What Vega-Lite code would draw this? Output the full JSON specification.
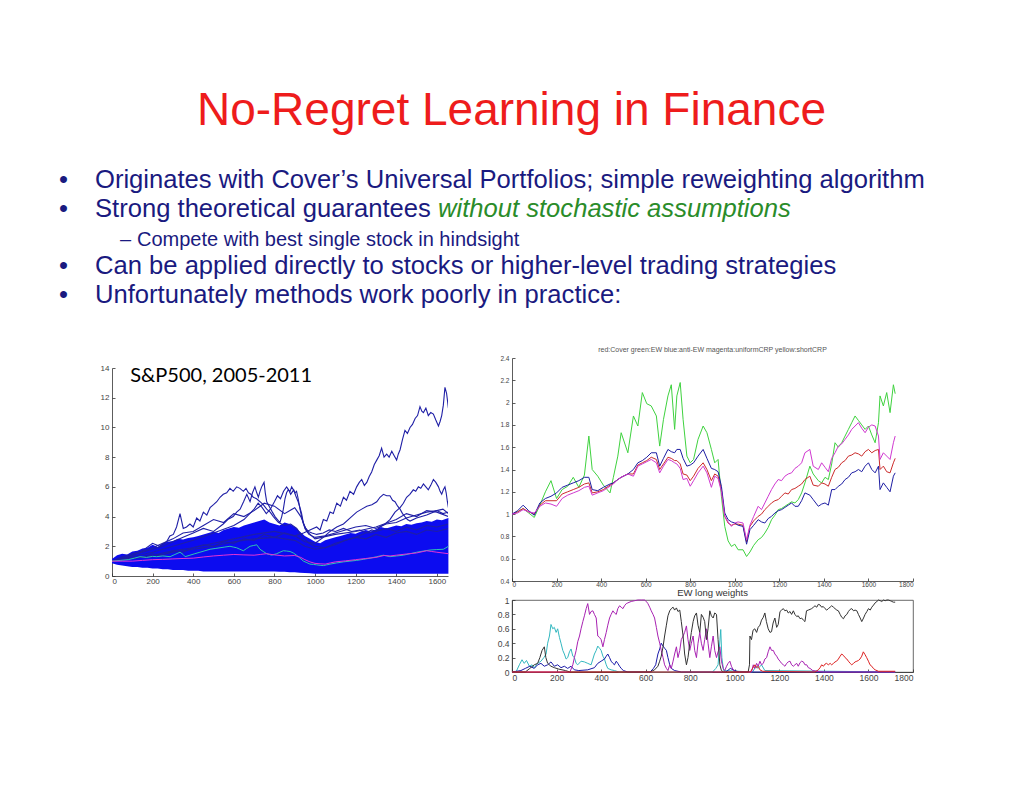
{
"$schema": "https://vega.github.io/schema/vega-lite/v6.json",
"background": "white",
"padding": {"left": 59, "top": 88, "right": 5, "bottom": 5},
"title": {"text": "No-Regret Learning in Finance", "font": "Liberation Sans", "fontSize": 46, "fontWeight": "normal", "color": "#ee1c1c", "anchor": "start", "frame": "bounds", "dx": 138, "baseline": "bottom", "offset": -13},
"config": {
  "view": {"stroke": null},
  "axis": {"grid": false, "title": null, "labelFont": "Liberation Sans", "domainColor": "#333", "tickColor": "#333", "labelColor": "#444", "tickSize": -3, "labelPadding": 6, "domainWidth": 0.8, "tickWidth": 0.8, "labelOverlap": false},
  "title": {"font": "Liberation Sans", "fontWeight": "normal"}
},
"datasets": {
"bullets": [
 {"line":1,"level":1,"marker":"•","text":"Originates with Cover’s Universal Portfolios; simple reweighting algorithm"},
 {"line":2,"level":1,"marker":"•","text":"Strong theoretical guarantees","extra":"without stochastic assumptions"},
 {"line":3,"level":2,"marker":"–","text":"Compete with best single stock in hindsight"},
 {"line":4,"level":1,"marker":"•","text":"Can be applied directly to stocks or higher-level trading strategies"},
 {"line":5,"level":1,"marker":"•","text":"Unfortunately methods work poorly in practice:"}
],
"band": [
{"x":0,"lo":0.85,"hi":1.15},{"x":25,"lo":0.75,"hi":1.4},{"x":50,"lo":0.7,"hi":1.5},{"x":75,"lo":0.65,"hi":1.45},{"x":100,"lo":0.6,"hi":1.65},{"x":125,"lo":0.6,"hi":1.7},{"x":150,"lo":0.55,"hi":1.85},{"x":175,"lo":0.55,"hi":1.9},{"x":200,"lo":0.5,"hi":2.1},{"x":225,"lo":0.5,"hi":1.95},{"x":250,"lo":0.45,"hi":2.2},{"x":275,"lo":0.45,"hi":2.3},{"x":300,"lo":0.4,"hi":2.35},{"x":325,"lo":0.4,"hi":2.5},{"x":350,"lo":0.4,"hi":2.45},{"x":375,"lo":0.35,"hi":2.55},{"x":400,"lo":0.35,"hi":2.6},{"x":425,"lo":0.35,"hi":2.7},{"x":450,"lo":0.3,"hi":2.8},{"x":475,"lo":0.3,"hi":2.9},{"x":500,"lo":0.3,"hi":3.0},{"x":525,"lo":0.3,"hi":2.9},{"x":550,"lo":0.3,"hi":3.1},{"x":575,"lo":0.3,"hi":3.2},{"x":600,"lo":0.3,"hi":3.3},{"x":625,"lo":0.3,"hi":3.25},{"x":650,"lo":0.3,"hi":3.4},{"x":675,"lo":0.3,"hi":3.5},{"x":700,"lo":0.3,"hi":3.6},{"x":725,"lo":0.3,"hi":3.7},{"x":750,"lo":0.3,"hi":3.8},{"x":775,"lo":0.3,"hi":3.6},{"x":800,"lo":0.3,"hi":3.5},{"x":825,"lo":0.28,"hi":3.4},{"x":850,"lo":0.28,"hi":3.6},{"x":875,"lo":0.26,"hi":3.5},{"x":900,"lo":0.25,"hi":3.3},{"x":925,"lo":0.22,"hi":3.0},{"x":950,"lo":0.2,"hi":2.7},{"x":975,"lo":0.18,"hi":2.5},{"x":1000,"lo":0.15,"hi":2.3},{"x":1025,"lo":0.15,"hi":2.2},{"x":1050,"lo":0.15,"hi":2.4},{"x":1075,"lo":0.15,"hi":2.5},{"x":1100,"lo":0.15,"hi":2.6},{"x":1125,"lo":0.15,"hi":2.7},{"x":1150,"lo":0.15,"hi":2.8},{"x":1175,"lo":0.15,"hi":2.9},{"x":1200,"lo":0.15,"hi":2.85},{"x":1225,"lo":0.15,"hi":3.0},{"x":1250,"lo":0.15,"hi":3.1},{"x":1275,"lo":0.15,"hi":3.0},{"x":1300,"lo":0.15,"hi":3.15},{"x":1325,"lo":0.15,"hi":3.3},{"x":1350,"lo":0.15,"hi":3.2},{"x":1375,"lo":0.15,"hi":3.3},{"x":1400,"lo":0.15,"hi":3.4},{"x":1425,"lo":0.15,"hi":3.35},{"x":1450,"lo":0.15,"hi":3.5},{"x":1475,"lo":0.15,"hi":3.45},{"x":1500,"lo":0.15,"hi":3.55},{"x":1525,"lo":0.15,"hi":3.6},{"x":1550,"lo":0.15,"hi":3.7},{"x":1575,"lo":0.15,"hi":3.65},{"x":1600,"lo":0.15,"hi":3.8},{"x":1625,"lo":0.15,"hi":3.75},{"x":1657,"lo":0.15,"hi":3.9}
],
"splines": [
{"id":"top","x":0,"y":1.0},{"id":"top","x":50,"y":1.1},{"id":"top","x":100,"y":1.2},{"id":"top","x":150,"y":1.3},{"id":"top","x":200,"y":1.5},{"id":"top","x":250,"y":1.4},{"id":"top","x":300,"y":1.7},{"id":"top","x":350,"y":1.6},{"id":"top","x":400,"y":1.9},{"id":"top","x":450,"y":2.1},{"id":"top","x":500,"y":2.0},{"id":"top","x":550,"y":2.3},{"id":"top","x":600,"y":2.2},{"id":"top","x":650,"y":2.5},{"id":"top","x":700,"y":2.4},{"id":"top","x":750,"y":2.8},{"id":"top","x":800,"y":2.6},{"id":"top","x":850,"y":2.9},{"id":"top","x":900,"y":2.7},{"id":"top","x":943,"y":2.9},{"id":"top","x":975,"y":3.1},{"id":"top","x":1008,"y":3.3},{"id":"top","x":1025,"y":3.1},{"id":"top","x":1041,"y":3.8},{"id":"top","x":1058,"y":3.7},{"id":"top","x":1074,"y":4.3},{"id":"top","x":1090,"y":4.2},{"id":"top","x":1107,"y":4.9},{"id":"top","x":1125,"y":4.7},{"id":"top","x":1140,"y":5.3},{"id":"top","x":1155,"y":5.1},{"id":"top","x":1172,"y":5.7},{"id":"top","x":1190,"y":5.5},{"id":"top","x":1205,"y":6.0},{"id":"top","x":1218,"y":6.3},{"id":"top","x":1230,"y":6.5},{"id":"top","x":1243,"y":6.1},{"id":"top","x":1255,"y":6.3},{"id":"top","x":1267,"y":6.7},{"id":"top","x":1279,"y":7.0},{"id":"top","x":1292,"y":7.5},{"id":"top","x":1304,"y":7.8},{"id":"top","x":1316,"y":8.1},{"id":"top","x":1328,"y":8.6},{"id":"top","x":1340,"y":8.0},{"id":"top","x":1353,"y":8.2},{"id":"top","x":1365,"y":8.0},{"id":"top","x":1378,"y":8.4},{"id":"top","x":1390,"y":8.1},{"id":"top","x":1402,"y":7.8},{"id":"top","x":1410,"y":8.2},{"id":"top","x":1419,"y":8.5},{"id":"top","x":1431,"y":9.2},{"id":"top","x":1443,"y":9.8},{"id":"top","x":1455,"y":9.6},{"id":"top","x":1468,"y":10.0},{"id":"top","x":1480,"y":10.2},{"id":"top","x":1493,"y":10.6},{"id":"top","x":1505,"y":10.8},{"id":"top","x":1517,"y":11.4},{"id":"top","x":1526,"y":11.1},{"id":"top","x":1534,"y":11.0},{"id":"top","x":1546,"y":11.3},{"id":"top","x":1558,"y":10.8},{"id":"top","x":1570,"y":11.0},{"id":"top","x":1583,"y":10.9},{"id":"top","x":1595,"y":10.5},{"id":"top","x":1608,"y":10.1},{"id":"top","x":1616,"y":10.4},{"id":"top","x":1624,"y":10.8},{"id":"top","x":1632,"y":11.5},{"id":"top","x":1640,"y":12.7},{"id":"top","x":1648,"y":12.3},{"id":"top","x":1657,"y":11.3},
{"id":"a","x":0,"y":1.0},{"id":"a","x":50,"y":1.3},{"id":"a","x":100,"y":1.5},{"id":"a","x":150,"y":1.7},{"id":"a","x":200,"y":2.2},{"id":"a","x":235,"y":2.0},{"id":"a","x":269,"y":2.3},{"id":"a","x":285,"y":2.7},{"id":"a","x":302,"y":2.8},{"id":"a","x":318,"y":3.3},{"id":"a","x":335,"y":4.2},{"id":"a","x":351,"y":3.2},{"id":"a","x":367,"y":3.3},{"id":"a","x":384,"y":3.5},{"id":"a","x":400,"y":3.3},{"id":"a","x":417,"y":3.9},{"id":"a","x":433,"y":3.7},{"id":"a","x":450,"y":4.3},{"id":"a","x":467,"y":4.1},{"id":"a","x":483,"y":4.6},{"id":"a","x":500,"y":4.8},{"id":"a","x":516,"y":5.0},{"id":"a","x":532,"y":5.3},{"id":"a","x":548,"y":5.5},{"id":"a","x":565,"y":5.6},{"id":"a","x":581,"y":5.9},{"id":"a","x":597,"y":5.7},{"id":"a","x":614,"y":6.0},{"id":"a","x":630,"y":5.9},{"id":"a","x":647,"y":5.7},{"id":"a","x":660,"y":5.9},{"id":"a","x":672,"y":5.6},{"id":"a","x":684,"y":5.5},{"id":"a","x":696,"y":5.3},{"id":"a","x":712,"y":5.2},{"id":"a","x":729,"y":5.0},{"id":"a","x":745,"y":4.8},{"id":"a","x":762,"y":4.5},{"id":"a","x":779,"y":4.3},{"id":"a","x":795,"y":4.0},{"id":"a","x":820,"y":3.6},{"id":"a","x":850,"y":3.4},{"id":"a","x":880,"y":3.5},{"id":"a","x":910,"y":3.2},{"id":"a","x":940,"y":2.6},{"id":"a","x":970,"y":2.2},{"id":"a","x":1000,"y":2.0},{"id":"a","x":1050,"y":1.9},{"id":"a","x":1100,"y":2.1},{"id":"a","x":1150,"y":2.4},{"id":"a","x":1200,"y":2.6},{"id":"a","x":1250,"y":2.5},{"id":"a","x":1300,"y":2.8},{"id":"a","x":1350,"y":2.6},{"id":"a","x":1400,"y":2.9},{"id":"a","x":1450,"y":3.0},{"id":"a","x":1500,"y":2.8},{"id":"a","x":1550,"y":3.1},{"id":"a","x":1600,"y":3.0},{"id":"a","x":1657,"y":3.2},
{"id":"b","x":0,"y":1.0},{"id":"b","x":50,"y":1.2},{"id":"b","x":100,"y":1.4},{"id":"b","x":150,"y":1.6},{"id":"b","x":200,"y":1.8},{"id":"b","x":250,"y":2.0},{"id":"b","x":300,"y":2.3},{"id":"b","x":350,"y":2.6},{"id":"b","x":400,"y":2.9},{"id":"b","x":450,"y":3.2},{"id":"b","x":500,"y":3.0},{"id":"b","x":548,"y":3.5},{"id":"b","x":570,"y":3.8},{"id":"b","x":597,"y":4.0},{"id":"b","x":614,"y":4.3},{"id":"b","x":631,"y":4.5},{"id":"b","x":648,"y":5.0},{"id":"b","x":664,"y":5.5},{"id":"b","x":680,"y":5.0},{"id":"b","x":692,"y":5.6},{"id":"b","x":704,"y":6.0},{"id":"b","x":713,"y":5.6},{"id":"b","x":721,"y":5.3},{"id":"b","x":729,"y":5.7},{"id":"b","x":737,"y":6.0},{"id":"b","x":745,"y":6.2},{"id":"b","x":749,"y":6.3},{"id":"b","x":755,"y":5.6},{"id":"b","x":762,"y":5.0},{"id":"b","x":770,"y":4.8},{"id":"b","x":778,"y":4.6},{"id":"b","x":790,"y":4.3},{"id":"b","x":803,"y":4.0},{"id":"b","x":815,"y":3.8},{"id":"b","x":827,"y":3.6},{"id":"b","x":836,"y":4.0},{"id":"b","x":844,"y":4.5},{"id":"b","x":852,"y":5.2},{"id":"b","x":860,"y":5.6},{"id":"b","x":868,"y":5.8},{"id":"b","x":877,"y":5.7},{"id":"b","x":885,"y":6.0},{"id":"b","x":893,"y":5.8},{"id":"b","x":901,"y":5.6},{"id":"b","x":909,"y":5.7},{"id":"b","x":917,"y":5.2},{"id":"b","x":926,"y":4.5},{"id":"b","x":934,"y":4.0},{"id":"b","x":943,"y":3.5},{"id":"b","x":955,"y":3.2},{"id":"b","x":967,"y":3.0},{"id":"b","x":985,"y":2.9},{"id":"b","x":1008,"y":2.8},{"id":"b","x":1040,"y":2.9},{"id":"b","x":1070,"y":3.1},{"id":"b","x":1100,"y":3.0},{"id":"b","x":1140,"y":3.2},{"id":"b","x":1180,"y":3.0},{"id":"b","x":1220,"y":3.1},{"id":"b","x":1260,"y":2.9},{"id":"b","x":1300,"y":3.0},{"id":"b","x":1350,"y":3.2},{"id":"b","x":1400,"y":3.0},{"id":"b","x":1450,"y":3.3},{"id":"b","x":1500,"y":3.1},{"id":"b","x":1550,"y":3.4},{"id":"b","x":1600,"y":3.3},{"id":"b","x":1657,"y":3.5},
{"id":"c","x":0,"y":1.0},{"id":"c","x":100,"y":1.3},{"id":"c","x":200,"y":1.6},{"id":"c","x":300,"y":2.0},{"id":"c","x":400,"y":2.4},{"id":"c","x":500,"y":2.9},{"id":"c","x":600,"y":3.4},{"id":"c","x":650,"y":3.8},{"id":"c","x":700,"y":4.5},{"id":"c","x":720,"y":4.9},{"id":"c","x":740,"y":4.6},{"id":"c","x":760,"y":4.2},{"id":"c","x":780,"y":4.5},{"id":"c","x":800,"y":5.0},{"id":"c","x":815,"y":5.4},{"id":"c","x":830,"y":5.2},{"id":"c","x":845,"y":5.7},{"id":"c","x":860,"y":6.0},{"id":"c","x":870,"y":5.8},{"id":"c","x":880,"y":5.5},{"id":"c","x":895,"y":5.8},{"id":"c","x":905,"y":5.4},{"id":"c","x":917,"y":5.0},{"id":"c","x":926,"y":4.6},{"id":"c","x":934,"y":4.2},{"id":"c","x":942,"y":3.6},{"id":"c","x":950,"y":3.2},{"id":"c","x":970,"y":2.8},{"id":"c","x":1000,"y":2.6},{"id":"c","x":1050,"y":2.7},{"id":"c","x":1100,"y":2.9},{"id":"c","x":1150,"y":3.1},{"id":"c","x":1200,"y":3.3},{"id":"c","x":1250,"y":3.4},{"id":"c","x":1300,"y":3.2},{"id":"c","x":1350,"y":3.5},{"id":"c","x":1400,"y":3.6},{"id":"c","x":1450,"y":3.9},{"id":"c","x":1500,"y":4.1},{"id":"c","x":1550,"y":4.3},{"id":"c","x":1600,"y":4.4},{"id":"c","x":1630,"y":4.2},{"id":"c","x":1657,"y":4.3},
{"id":"d","x":0,"y":1.0},{"id":"d","x":100,"y":1.2},{"id":"d","x":200,"y":1.3},{"id":"d","x":300,"y":1.6},{"id":"d","x":400,"y":1.8},{"id":"d","x":500,"y":2.0},{"id":"d","x":600,"y":2.3},{"id":"d","x":700,"y":2.5},{"id":"d","x":800,"y":2.6},{"id":"d","x":900,"y":2.4},{"id":"d","x":950,"y":2.0},{"id":"d","x":1000,"y":1.8},{"id":"d","x":1050,"y":1.9},{"id":"d","x":1100,"y":2.2},{"id":"d","x":1150,"y":2.4},{"id":"d","x":1200,"y":2.6},{"id":"d","x":1250,"y":2.9},{"id":"d","x":1280,"y":3.1},{"id":"d","x":1300,"y":3.0},{"id":"d","x":1320,"y":3.3},{"id":"d","x":1345,"y":3.5},{"id":"d","x":1369,"y":3.8},{"id":"d","x":1394,"y":4.3},{"id":"d","x":1419,"y":4.6},{"id":"d","x":1435,"y":4.9},{"id":"d","x":1451,"y":5.3},{"id":"d","x":1467,"y":5.5},{"id":"d","x":1484,"y":5.8},{"id":"d","x":1496,"y":5.7},{"id":"d","x":1509,"y":6.0},{"id":"d","x":1521,"y":5.9},{"id":"d","x":1534,"y":6.2},{"id":"d","x":1546,"y":6.0},{"id":"d","x":1558,"y":5.8},{"id":"d","x":1570,"y":6.1},{"id":"d","x":1583,"y":6.5},{"id":"d","x":1595,"y":6.3},{"id":"d","x":1608,"y":6.0},{"id":"d","x":1616,"y":5.7},{"id":"d","x":1624,"y":5.5},{"id":"d","x":1632,"y":5.8},{"id":"d","x":1640,"y":6.0},{"id":"d","x":1646,"y":5.6},{"id":"d","x":1652,"y":5.0},{"id":"d","x":1657,"y":4.6},
{"id":"e","x":0,"y":1.0},{"id":"e","x":100,"y":1.2},{"id":"e","x":200,"y":1.4},{"id":"e","x":300,"y":1.7},{"id":"e","x":400,"y":1.9},{"id":"e","x":500,"y":2.2},{"id":"e","x":600,"y":2.5},{"id":"e","x":700,"y":2.8},{"id":"e","x":800,"y":3.0},{"id":"e","x":900,"y":2.7},{"id":"e","x":950,"y":2.3},{"id":"e","x":1000,"y":2.2},{"id":"e","x":1041,"y":2.6},{"id":"e","x":1074,"y":3.0},{"id":"e","x":1107,"y":3.3},{"id":"e","x":1140,"y":3.5},{"id":"e","x":1172,"y":3.9},{"id":"e","x":1205,"y":4.3},{"id":"e","x":1230,"y":4.5},{"id":"e","x":1255,"y":4.7},{"id":"e","x":1280,"y":4.8},{"id":"e","x":1304,"y":5.0},{"id":"e","x":1320,"y":5.3},{"id":"e","x":1337,"y":5.5},{"id":"e","x":1353,"y":5.4},{"id":"e","x":1369,"y":5.4},{"id":"e","x":1382,"y":5.1},{"id":"e","x":1394,"y":5.0},{"id":"e","x":1407,"y":4.7},{"id":"e","x":1419,"y":4.5},{"id":"e","x":1431,"y":4.2},{"id":"e","x":1443,"y":4.0},{"id":"e","x":1455,"y":3.8},{"id":"e","x":1468,"y":3.7},{"id":"e","x":1500,"y":3.9},{"id":"e","x":1550,"y":4.1},{"id":"e","x":1600,"y":4.4},{"id":"e","x":1630,"y":4.5},{"id":"e","x":1657,"y":4.2},
{"id":"f","x":0,"y":1.0},{"id":"f","x":100,"y":1.4},{"id":"f","x":200,"y":1.9},{"id":"f","x":300,"y":2.5},{"id":"f","x":350,"y":2.9},{"id":"f","x":400,"y":3.0},{"id":"f","x":450,"y":3.4},{"id":"f","x":500,"y":3.8},{"id":"f","x":550,"y":3.6},{"id":"f","x":600,"y":4.2},{"id":"f","x":650,"y":4.0},{"id":"f","x":700,"y":4.4},{"id":"f","x":750,"y":4.9},{"id":"f","x":800,"y":4.7},{"id":"f","x":850,"y":4.2},{"id":"f","x":900,"y":4.6},{"id":"f","x":930,"y":4.0},{"id":"f","x":960,"y":3.0},{"id":"f","x":1000,"y":2.5},{"id":"f","x":1100,"y":2.8},{"id":"f","x":1200,"y":3.0},{"id":"f","x":1300,"y":3.3},{"id":"f","x":1400,"y":3.8},{"id":"f","x":1450,"y":4.2},{"id":"f","x":1500,"y":4.0},{"id":"f","x":1550,"y":4.4},{"id":"f","x":1600,"y":4.3},{"id":"f","x":1657,"y":4.0}
],
"spew": [
{"x":0,"y":1.0},{"x":40,"y":1.05},{"x":80,"y":1.1},{"x":110,"y":1.2},{"x":138,"y":1.3},{"x":170,"y":1.25},{"x":200,"y":1.32},{"x":220,"y":1.3},{"x":250,"y":1.35},{"x":286,"y":1.3},{"x":310,"y":1.45},{"x":335,"y":1.6},{"x":350,"y":1.45},{"x":360,"y":1.3},{"x":384,"y":1.4},{"x":408,"y":1.5},{"x":433,"y":1.6},{"x":458,"y":1.7},{"x":483,"y":1.8},{"x":508,"y":1.85},{"x":532,"y":1.9},{"x":556,"y":1.95},{"x":581,"y":2.0},{"x":597,"y":1.95},{"x":614,"y":1.9},{"x":630,"y":1.8},{"x":647,"y":1.7},{"x":663,"y":1.85},{"x":680,"y":2.0},{"x":696,"y":2.05},{"x":713,"y":2.1},{"x":721,"y":1.95},{"x":729,"y":1.8},{"x":745,"y":1.65},{"x":762,"y":1.5},{"x":775,"y":1.45},{"x":786,"y":1.4},{"x":798,"y":1.45},{"x":811,"y":1.5},{"x":827,"y":1.6},{"x":844,"y":1.7},{"x":860,"y":1.68},{"x":877,"y":1.65},{"x":893,"y":1.55},{"x":909,"y":1.4},{"x":926,"y":1.2},{"x":943,"y":1.0},{"x":960,"y":0.9},{"x":975,"y":0.8},{"x":992,"y":0.78},{"x":1008,"y":0.75},{"x":1025,"y":0.72},{"x":1041,"y":0.7},{"x":1058,"y":0.75},{"x":1074,"y":0.8},{"x":1107,"y":0.88},{"x":1140,"y":0.95},{"x":1172,"y":1.0},{"x":1205,"y":1.05},{"x":1238,"y":1.12},{"x":1271,"y":1.2},{"x":1304,"y":1.3},{"x":1337,"y":1.4},{"x":1353,"y":1.35},{"x":1369,"y":1.3},{"x":1402,"y":1.35},{"x":1435,"y":1.4},{"x":1468,"y":1.5},{"x":1501,"y":1.6},{"x":1534,"y":1.68},{"x":1567,"y":1.75},{"x":1600,"y":1.78},{"x":1632,"y":1.8},{"x":1645,"y":1.9},{"x":1657,"y":2.0}
],
"spucrp": [
{"x":0,"y":1.0},{"x":50,"y":1.0},{"x":100,"y":1.0},{"x":150,"y":1.05},{"x":200,"y":1.1},{"x":250,"y":1.12},{"x":300,"y":1.15},{"x":350,"y":1.18},{"x":400,"y":1.2},{"x":450,"y":1.28},{"x":500,"y":1.35},{"x":550,"y":1.4},{"x":600,"y":1.45},{"x":650,"y":1.42},{"x":700,"y":1.4},{"x":730,"y":1.45},{"x":760,"y":1.5},{"x":800,"y":1.42},{"x":850,"y":1.35},{"x":900,"y":1.38},{"x":930,"y":1.25},{"x":950,"y":1.1},{"x":975,"y":0.95},{"x":1000,"y":0.85},{"x":1025,"y":0.82},{"x":1050,"y":0.8},{"x":1075,"y":0.88},{"x":1100,"y":0.95},{"x":1150,"y":1.02},{"x":1200,"y":1.1},{"x":1250,"y":1.18},{"x":1300,"y":1.25},{"x":1340,"y":1.38},{"x":1370,"y":1.35},{"x":1400,"y":1.4},{"x":1450,"y":1.48},{"x":1500,"y":1.55},{"x":1550,"y":1.7},{"x":1575,"y":1.65},{"x":1600,"y":1.6},{"x":1630,"y":1.55},{"x":1657,"y":1.5}
],
"perf": [
{"x":0,"g":1,"b":1,"r":1,"m":1},{"x":25,"g":1.02,"b":1.03,"r":1.02,"m":1.01},{"x":50,"g":1.05,"b":1.08,"r":1.05,"m":1.04},{"x":75,"g":1.01,"b":1.03,"r":1.02,"m":1.02},{"x":100,"g":0.97,"b":0.99,"r":1.0,"m":1.01},{"x":125,"g":1.08,"b":1.1,"r":1.08,"m":1.07},{"x":150,"g":1.2,"b":1.14,"r":1.12,"m":1.1},{"x":175,"g":1.3,"b":1.16,"r":1.12,"m":1.09},{"x":200,"g":1.14,"b":1.19,"r":1.12,"m":1.07},{"x":225,"g":1.22,"b":1.24,"r":1.18,"m":1.14},{"x":250,"g":1.25,"b":1.26,"r":1.2,"m":1.17},{"x":275,"g":1.33,"b":1.28,"r":1.22,"m":1.19},{"x":300,"g":1.24,"b":1.3,"r":1.24,"m":1.21},{"x":325,"g":1.35,"b":1.33,"r":1.27,"m":1.24},{"x":345,"g":1.7,"b":1.33,"r":1.28,"m":1.25},{"x":360,"g":1.4,"b":1.22,"r":1.19,"m":1.17},{"x":385,"g":1.34,"b":1.21,"r":1.2,"m":1.19},{"x":410,"g":1.26,"b":1.24,"r":1.22,"m":1.21},{"x":440,"g":1.19,"b":1.27,"r":1.26,"m":1.25},{"x":455,"g":1.33,"b":1.28,"r":1.28,"m":1.27},{"x":475,"g":1.52,"b":1.31,"r":1.31,"m":1.31},{"x":490,"g":1.73,"b":1.33,"r":1.33,"m":1.33},{"x":520,"g":1.55,"b":1.36,"r":1.36,"m":1.36},{"x":545,"g":1.88,"b":1.4,"r":1.36,"m":1.34},{"x":565,"g":1.79,"b":1.46,"r":1.44,"m":1.43},{"x":585,"g":2.09,"b":1.48,"r":1.46,"m":1.45},{"x":605,"g":1.99,"b":1.51,"r":1.48,"m":1.47},{"x":625,"g":1.97,"b":1.55,"r":1.51,"m":1.49},{"x":648,"g":1.88,"b":1.55,"r":1.49,"m":1.46},{"x":663,"g":1.61,"b":1.43,"r":1.4,"m":1.37},{"x":680,"g":1.85,"b":1.5,"r":1.45,"m":1.43},{"x":700,"g":2.06,"b":1.58,"r":1.51,"m":1.49},{"x":715,"g":2.16,"b":1.56,"r":1.5,"m":1.48},{"x":730,"g":1.76,"b":1.55,"r":1.48,"m":1.46},{"x":740,"g":2.06,"b":1.58,"r":1.48,"m":1.45},{"x":755,"g":2.18,"b":1.58,"r":1.45,"m":1.41},{"x":768,"g":1.85,"b":1.5,"r":1.36,"m":1.31},{"x":785,"g":1.52,"b":1.43,"r":1.35,"m":1.32},{"x":800,"g":1.46,"b":1.44,"r":1.3,"m":1.25},{"x":815,"g":1.49,"b":1.46,"r":1.34,"m":1.3},{"x":835,"g":1.67,"b":1.52,"r":1.41,"m":1.37},{"x":858,"g":1.79,"b":1.58,"r":1.46,"m":1.43},{"x":875,"g":1.73,"b":1.5,"r":1.4,"m":1.37},{"x":895,"g":1.58,"b":1.41,"r":1.3,"m":1.24},{"x":910,"g":1.46,"b":1.4,"r":1.36,"m":1.34},{"x":925,"g":1.49,"b":1.38,"r":1.34,"m":1.32},{"x":940,"g":1.16,"b":1.25,"r":1.22,"m":1.2},{"x":955,"g":0.89,"b":1.01,"r":0.98,"m":0.98},{"x":970,"g":0.76,"b":0.95,"r":0.92,"m":0.93},{"x":985,"g":0.71,"b":0.93,"r":0.9,"m":0.89},{"x":1000,"g":0.73,"b":0.92,"r":0.91,"m":0.92},{"x":1015,"g":0.68,"b":0.9,"r":0.91,"m":0.93},{"x":1037,"g":0.68,"b":0.89,"r":0.9,"m":0.92},{"x":1053,"g":0.62,"b":0.73,"r":0.75,"m":0.77},{"x":1068,"g":0.66,"b":0.86,"r":0.89,"m":0.9},{"x":1085,"g":0.72,"b":0.9,"r":0.94,"m":0.98},{"x":1105,"g":0.77,"b":0.95,"r":0.98,"m":1.07},{"x":1120,"g":0.79,"b":0.93,"r":1.0,"m":1.04},{"x":1135,"g":0.83,"b":0.92,"r":1.04,"m":1.1},{"x":1150,"g":0.88,"b":0.96,"r":1.07,"m":1.16},{"x":1165,"g":0.95,"b":0.98,"r":1.1,"m":1.22},{"x":1180,"g":0.99,"b":1.01,"r":1.12,"m":1.27},{"x":1195,"g":1.04,"b":1.03,"r":1.13,"m":1.31},{"x":1210,"g":1.05,"b":1.04,"r":1.16,"m":1.3},{"x":1225,"g":1.07,"b":1.06,"r":1.19,"m":1.34},{"x":1240,"g":1.09,"b":1.08,"r":1.18,"m":1.36},{"x":1255,"g":1.11,"b":1.1,"r":1.22,"m":1.37},{"x":1270,"g":1.1,"b":1.07,"r":1.23,"m":1.41},{"x":1285,"g":1.13,"b":1.07,"r":1.25,"m":1.43},{"x":1300,"g":1.19,"b":1.12,"r":1.27,"m":1.46},{"x":1315,"g":1.28,"b":1.19,"r":1.31,"m":1.55},{"x":1337,"g":1.43,"b":1.17,"r":1.34,"m":1.58},{"x":1352,"g":1.36,"b":1.13,"r":1.26,"m":1.43},{"x":1375,"g":1.3,"b":1.07,"r":1.25,"m":1.4},{"x":1390,"g":1.28,"b":1.09,"r":1.28,"m":1.46},{"x":1405,"g":1.33,"b":1.1,"r":1.27,"m":1.42},{"x":1420,"g":1.31,"b":1.08,"r":1.25,"m":1.38},{"x":1435,"g":1.45,"b":1.22,"r":1.33,"m":1.5},{"x":1450,"g":1.64,"b":1.22,"r":1.4,"m":1.55},{"x":1465,"g":1.6,"b":1.25,"r":1.42,"m":1.61},{"x":1480,"g":1.64,"b":1.27,"r":1.46,"m":1.63},{"x":1495,"g":1.7,"b":1.31,"r":1.48,"m":1.67},{"x":1510,"g":1.76,"b":1.33,"r":1.52,"m":1.71},{"x":1525,"g":1.82,"b":1.37,"r":1.53,"m":1.76},{"x":1540,"g":1.88,"b":1.38,"r":1.55,"m":1.79},{"x":1555,"g":1.84,"b":1.4,"r":1.54,"m":1.82},{"x":1570,"g":1.8,"b":1.38,"r":1.52,"m":1.77},{"x":1585,"g":1.76,"b":1.43,"r":1.56,"m":1.73},{"x":1600,"g":1.79,"b":1.46,"r":1.58,"m":1.78},{"x":1615,"g":1.71,"b":1.4,"r":1.55,"m":1.8},{"x":1630,"g":1.64,"b":1.37,"r":1.57,"m":1.79},{"x":1645,"g":1.82,"b":1.43,"r":1.58,"m":1.7},{"x":1652,"g":2.06,"b":1.22,"r":1.4,"m":1.49},{"x":1667,"g":1.97,"b":1.28,"r":1.43,"m":1.55},{"x":1682,"g":2.09,"b":1.24,"r":1.38,"m":1.52},{"x":1697,"g":1.91,"b":1.2,"r":1.37,"m":1.49},{"x":1712,"g":2.16,"b":1.34,"r":1.46,"m":1.64},{"x":1720,"g":2.08,"b":1.37,"r":1.5,"m":1.7}
],
"weights": [
{"s":"c","x":0,"y":0},{"s":"c","x":18,"y":0},{"s":"c","x":33,"y":0.1},{"s":"c","x":45,"y":0.17},{"s":"c","x":55,"y":0.12},{"s":"c","x":65,"y":0.16},{"s":"c","x":78,"y":0.08},{"s":"c","x":90,"y":0.1},{"s":"c","x":100,"y":0.06},{"s":"c","x":115,"y":0.12},{"s":"c","x":130,"y":0.15},{"s":"c","x":143,"y":0.2},{"s":"c","x":153,"y":0.25},{"s":"c","x":160,"y":0.4},{"s":"c","x":168,"y":0.5},{"s":"c","x":175,"y":0.66},{"s":"c","x":183,"y":0.6},{"s":"c","x":190,"y":0.62},{"s":"c","x":198,"y":0.55},{"s":"c","x":205,"y":0.6},{"s":"c","x":213,"y":0.48},{"s":"c","x":220,"y":0.4},{"s":"c","x":228,"y":0.3},{"s":"c","x":235,"y":0.25},{"s":"c","x":243,"y":0.18},{"s":"c","x":250,"y":0.2},{"s":"c","x":258,"y":0.28},{"s":"c","x":265,"y":0.32},{"s":"c","x":273,"y":0.22},{"s":"c","x":280,"y":0.2},{"s":"c","x":288,"y":0.12},{"s":"c","x":295,"y":0.1},{"s":"c","x":310,"y":0.15},{"s":"c","x":325,"y":0.14},{"s":"c","x":340,"y":0.12},{"s":"c","x":355,"y":0.1},{"s":"c","x":363,"y":0.18},{"s":"c","x":370,"y":0.25},{"s":"c","x":378,"y":0.3},{"s":"c","x":385,"y":0.36},{"s":"c","x":393,"y":0.33},{"s":"c","x":400,"y":0.3},{"s":"c","x":408,"y":0.22},{"s":"c","x":415,"y":0.18},{"s":"c","x":423,"y":0.1},{"s":"c","x":430,"y":0.05},{"s":"c","x":445,"y":0.03},{"s":"c","x":460,"y":0.02},{"s":"c","x":480,"y":0},{"s":"c","x":900,"y":0},{"s":"c","x":915,"y":0.05},{"s":"c","x":925,"y":0.1},{"s":"c","x":930,"y":0.3},{"s":"c","x":937,"y":0.59},{"s":"c","x":942,"y":0.2},{"s":"c","x":950,"y":0.02},{"s":"c","x":1080,"y":0},{"s":"c","x":1095,"y":0.08},{"s":"c","x":1105,"y":0.05},{"s":"c","x":1120,"y":0.1},{"s":"c","x":1135,"y":0.02},{"s":"c","x":1720,"y":0},
{"s":"b","x":0,"y":0},{"s":"b","x":40,"y":0.02},{"s":"b","x":60,"y":0.05},{"s":"b","x":80,"y":0.08},{"s":"b","x":100,"y":0.05},{"s":"b","x":115,"y":0.1},{"s":"b","x":130,"y":0.12},{"s":"b","x":145,"y":0.08},{"s":"b","x":160,"y":0.1},{"s":"b","x":175,"y":0.14},{"s":"b","x":190,"y":0.08},{"s":"b","x":205,"y":0.1},{"s":"b","x":220,"y":0.06},{"s":"b","x":235,"y":0.08},{"s":"b","x":250,"y":0.05},{"s":"b","x":265,"y":0.08},{"s":"b","x":280,"y":0.03},{"s":"b","x":300,"y":0.02},{"s":"b","x":340,"y":0.03},{"s":"b","x":370,"y":0.06},{"s":"b","x":385,"y":0.12},{"s":"b","x":400,"y":0.15},{"s":"b","x":415,"y":0.18},{"s":"b","x":423,"y":0.22},{"s":"b","x":430,"y":0.25},{"s":"b","x":438,"y":0.2},{"s":"b","x":445,"y":0.15},{"s":"b","x":453,"y":0.12},{"s":"b","x":460,"y":0.1},{"s":"b","x":468,"y":0.15},{"s":"b","x":475,"y":0.12},{"s":"b","x":483,"y":0.08},{"s":"b","x":490,"y":0.05},{"s":"b","x":500,"y":0.02},{"s":"b","x":520,"y":0},{"s":"b","x":620,"y":0},{"s":"b","x":635,"y":0.05},{"s":"b","x":645,"y":0.1},{"s":"b","x":655,"y":0.25},{"s":"b","x":663,"y":0.32},{"s":"b","x":670,"y":0.4},{"s":"b","x":678,"y":0.36},{"s":"b","x":685,"y":0.33},{"s":"b","x":693,"y":0.3},{"s":"b","x":700,"y":0.2},{"s":"b","x":708,"y":0.1},{"s":"b","x":715,"y":0.05},{"s":"b","x":730,"y":0.02},{"s":"b","x":760,"y":0},{"s":"b","x":960,"y":0},{"s":"b","x":980,"y":0.05},{"s":"b","x":1000,"y":0.02},{"s":"b","x":1020,"y":0},{"s":"b","x":1720,"y":0},
{"s":"m","x":0,"y":0},{"s":"m","x":260,"y":0},{"s":"m","x":273,"y":0.1},{"s":"m","x":280,"y":0.2},{"s":"m","x":288,"y":0.3},{"s":"m","x":295,"y":0.42},{"s":"m","x":303,"y":0.5},{"s":"m","x":310,"y":0.6},{"s":"m","x":318,"y":0.7},{"s":"m","x":325,"y":0.78},{"s":"m","x":333,"y":0.88},{"s":"m","x":340,"y":0.95},{"s":"m","x":348,"y":0.8},{"s":"m","x":355,"y":0.84},{"s":"m","x":363,"y":0.85},{"s":"m","x":370,"y":0.8},{"s":"m","x":378,"y":0.75},{"s":"m","x":385,"y":0.5},{"s":"m","x":393,"y":0.48},{"s":"m","x":400,"y":0.45},{"s":"m","x":408,"y":0.35},{"s":"m","x":415,"y":0.45},{"s":"m","x":423,"y":0.55},{"s":"m","x":430,"y":0.65},{"s":"m","x":438,"y":0.75},{"s":"m","x":445,"y":0.8},{"s":"m","x":453,"y":0.85},{"s":"m","x":460,"y":0.82},{"s":"m","x":468,"y":0.8},{"s":"m","x":475,"y":0.88},{"s":"m","x":483,"y":0.92},{"s":"m","x":490,"y":0.9},{"s":"m","x":498,"y":0.88},{"s":"m","x":505,"y":0.92},{"s":"m","x":513,"y":0.95},{"s":"m","x":520,"y":0.96},{"s":"m","x":535,"y":0.98},{"s":"m","x":550,"y":0.99},{"s":"m","x":565,"y":1.0},{"s":"m","x":580,"y":1.0},{"s":"m","x":595,"y":1.0},{"s":"m","x":603,"y":0.98},{"s":"m","x":610,"y":0.95},{"s":"m","x":618,"y":0.9},{"s":"m","x":625,"y":0.85},{"s":"m","x":633,"y":0.8},{"s":"m","x":640,"y":0.75},{"s":"m","x":648,"y":0.62},{"s":"m","x":655,"y":0.5},{"s":"m","x":663,"y":0.4},{"s":"m","x":670,"y":0.3},{"s":"m","x":678,"y":0.2},{"s":"m","x":685,"y":0.1},{"s":"m","x":693,"y":0.05},{"s":"m","x":700,"y":0.02},{"s":"m","x":708,"y":0.1},{"s":"m","x":715,"y":0.05},{"s":"m","x":723,"y":0.15},{"s":"m","x":730,"y":0.25},{"s":"m","x":738,"y":0.35},{"s":"m","x":745,"y":0.2},{"s":"m","x":753,"y":0.3},{"s":"m","x":760,"y":0.45},{"s":"m","x":768,"y":0.5},{"s":"m","x":775,"y":0.55},{"s":"m","x":783,"y":0.64},{"s":"m","x":790,"y":0.45},{"s":"m","x":798,"y":0.3},{"s":"m","x":805,"y":0.4},{"s":"m","x":813,"y":0.5},{"s":"m","x":820,"y":0.3},{"s":"m","x":828,"y":0.2},{"s":"m","x":835,"y":0.4},{"s":"m","x":843,"y":0.55},{"s":"m","x":850,"y":0.4},{"s":"m","x":858,"y":0.3},{"s":"m","x":865,"y":0.45},{"s":"m","x":873,"y":0.6},{"s":"m","x":880,"y":0.4},{"s":"m","x":888,"y":0.2},{"s":"m","x":895,"y":0.35},{"s":"m","x":903,"y":0.5},{"s":"m","x":910,"y":0.3},{"s":"m","x":918,"y":0.2},{"s":"m","x":925,"y":0.28},{"s":"m","x":933,"y":0.35},{"s":"m","x":940,"y":0.15},{"s":"m","x":948,"y":0.05},{"s":"m","x":955,"y":0.02},{"s":"m","x":963,"y":0.08},{"s":"m","x":970,"y":0.12},{"s":"m","x":978,"y":0.15},{"s":"m","x":985,"y":0.08},{"s":"m","x":993,"y":0.03},{"s":"m","x":1000,"y":0},{"s":"m","x":1075,"y":0},{"s":"m","x":1083,"y":0.1},{"s":"m","x":1090,"y":0.05},{"s":"m","x":1098,"y":0.12},{"s":"m","x":1105,"y":0.08},{"s":"m","x":1113,"y":0.15},{"s":"m","x":1120,"y":0.1},{"s":"m","x":1128,"y":0.12},{"s":"m","x":1135,"y":0.18},{"s":"m","x":1143,"y":0.2},{"s":"m","x":1150,"y":0.28},{"s":"m","x":1158,"y":0.35},{"s":"m","x":1165,"y":0.3},{"s":"m","x":1173,"y":0.3},{"s":"m","x":1180,"y":0.25},{"s":"m","x":1188,"y":0.22},{"s":"m","x":1195,"y":0.18},{"s":"m","x":1203,"y":0.15},{"s":"m","x":1210,"y":0.12},{"s":"m","x":1218,"y":0.1},{"s":"m","x":1225,"y":0.08},{"s":"m","x":1233,"y":0.12},{"s":"m","x":1240,"y":0.14},{"s":"m","x":1248,"y":0.15},{"s":"m","x":1255,"y":0.1},{"s":"m","x":1263,"y":0.08},{"s":"m","x":1270,"y":0.1},{"s":"m","x":1278,"y":0.12},{"s":"m","x":1285,"y":0.08},{"s":"m","x":1293,"y":0.13},{"s":"m","x":1300,"y":0.15},{"s":"m","x":1308,"y":0.14},{"s":"m","x":1315,"y":0.1},{"s":"m","x":1323,"y":0.1},{"s":"m","x":1330,"y":0.06},{"s":"m","x":1338,"y":0.05},{"s":"m","x":1350,"y":0.02},{"s":"m","x":1368,"y":0.01},{"s":"m","x":1400,"y":0},{"s":"m","x":1720,"y":0},
{"s":"k","x":0,"y":0},{"s":"k","x":60,"y":0},{"s":"k","x":80,"y":0.05},{"s":"k","x":100,"y":0.1},{"s":"k","x":115,"y":0.12},{"s":"k","x":125,"y":0.2},{"s":"k","x":135,"y":0.3},{"s":"k","x":145,"y":0.35},{"s":"k","x":152,"y":0.2},{"s":"k","x":160,"y":0.12},{"s":"k","x":175,"y":0.08},{"s":"k","x":190,"y":0.06},{"s":"k","x":210,"y":0.04},{"s":"k","x":240,"y":0.02},{"s":"k","x":260,"y":0},{"s":"k","x":620,"y":0},{"s":"k","x":640,"y":0.03},{"s":"k","x":655,"y":0.08},{"s":"k","x":663,"y":0.15},{"s":"k","x":670,"y":0.22},{"s":"k","x":678,"y":0.35},{"s":"k","x":685,"y":0.5},{"s":"k","x":693,"y":0.65},{"s":"k","x":700,"y":0.78},{"s":"k","x":708,"y":0.85},{"s":"k","x":715,"y":0.88},{"s":"k","x":723,"y":0.9},{"s":"k","x":730,"y":0.86},{"s":"k","x":738,"y":0.89},{"s":"k","x":745,"y":0.84},{"s":"k","x":753,"y":0.86},{"s":"k","x":760,"y":0.7},{"s":"k","x":768,"y":0.5},{"s":"k","x":775,"y":0.25},{"s":"k","x":783,"y":0.1},{"s":"k","x":790,"y":0.2},{"s":"k","x":798,"y":0.4},{"s":"k","x":805,"y":0.55},{"s":"k","x":813,"y":0.7},{"s":"k","x":820,"y":0.78},{"s":"k","x":828,"y":0.82},{"s":"k","x":835,"y":0.65},{"s":"k","x":843,"y":0.55},{"s":"k","x":850,"y":0.8},{"s":"k","x":858,"y":0.76},{"s":"k","x":865,"y":0.7},{"s":"k","x":873,"y":0.45},{"s":"k","x":880,"y":0.6},{"s":"k","x":888,"y":0.85},{"s":"k","x":895,"y":0.78},{"s":"k","x":903,"y":0.75},{"s":"k","x":910,"y":0.82},{"s":"k","x":918,"y":0.8},{"s":"k","x":925,"y":0.45},{"s":"k","x":933,"y":0.1},{"s":"k","x":940,"y":0.02},{"s":"k","x":950,"y":0},{"s":"k","x":1060,"y":0},{"s":"k","x":1066,"y":0.1},{"s":"k","x":1068,"y":0.5},{"s":"k","x":1075,"y":0.45},{"s":"k","x":1082,"y":0.58},{"s":"k","x":1090,"y":0.6},{"s":"k","x":1098,"y":0.55},{"s":"k","x":1105,"y":0.62},{"s":"k","x":1113,"y":0.65},{"s":"k","x":1120,"y":0.72},{"s":"k","x":1128,"y":0.76},{"s":"k","x":1135,"y":0.82},{"s":"k","x":1142,"y":0.7},{"s":"k","x":1150,"y":0.6},{"s":"k","x":1158,"y":0.55},{"s":"k","x":1165,"y":0.56},{"s":"k","x":1172,"y":0.68},{"s":"k","x":1180,"y":0.75},{"s":"k","x":1188,"y":0.62},{"s":"k","x":1195,"y":0.66},{"s":"k","x":1203,"y":0.84},{"s":"k","x":1210,"y":0.86},{"s":"k","x":1218,"y":0.88},{"s":"k","x":1225,"y":0.85},{"s":"k","x":1233,"y":0.86},{"s":"k","x":1240,"y":0.82},{"s":"k","x":1248,"y":0.84},{"s":"k","x":1255,"y":0.8},{"s":"k","x":1263,"y":0.85},{"s":"k","x":1270,"y":0.8},{"s":"k","x":1278,"y":0.77},{"s":"k","x":1285,"y":0.78},{"s":"k","x":1293,"y":0.74},{"s":"k","x":1300,"y":0.75},{"s":"k","x":1308,"y":0.72},{"s":"k","x":1315,"y":0.7},{"s":"k","x":1322,"y":0.85},{"s":"k","x":1330,"y":0.86},{"s":"k","x":1338,"y":0.87},{"s":"k","x":1345,"y":0.88},{"s":"k","x":1353,"y":0.9},{"s":"k","x":1360,"y":0.92},{"s":"k","x":1368,"y":0.9},{"s":"k","x":1375,"y":0.94},{"s":"k","x":1383,"y":0.93},{"s":"k","x":1390,"y":0.9},{"s":"k","x":1397,"y":0.91},{"s":"k","x":1405,"y":0.88},{"s":"k","x":1413,"y":0.86},{"s":"k","x":1420,"y":0.88},{"s":"k","x":1428,"y":0.9},{"s":"k","x":1435,"y":0.92},{"s":"k","x":1443,"y":0.9},{"s":"k","x":1450,"y":0.88},{"s":"k","x":1458,"y":0.86},{"s":"k","x":1465,"y":0.85},{"s":"k","x":1473,"y":0.8},{"s":"k","x":1480,"y":0.76},{"s":"k","x":1488,"y":0.74},{"s":"k","x":1495,"y":0.78},{"s":"k","x":1503,"y":0.8},{"s":"k","x":1510,"y":0.84},{"s":"k","x":1518,"y":0.87},{"s":"k","x":1525,"y":0.88},{"s":"k","x":1533,"y":0.85},{"s":"k","x":1540,"y":0.86},{"s":"k","x":1548,"y":0.85},{"s":"k","x":1555,"y":0.8},{"s":"k","x":1563,"y":0.75},{"s":"k","x":1570,"y":0.7},{"s":"k","x":1578,"y":0.75},{"s":"k","x":1585,"y":0.8},{"s":"k","x":1593,"y":0.84},{"s":"k","x":1600,"y":0.88},{"s":"k","x":1608,"y":0.86},{"s":"k","x":1615,"y":0.9},{"s":"k","x":1623,"y":0.93},{"s":"k","x":1630,"y":0.96},{"s":"k","x":1638,"y":0.98},{"s":"k","x":1645,"y":1.0},{"s":"k","x":1653,"y":0.99},{"s":"k","x":1660,"y":0.98},{"s":"k","x":1668,"y":1.0},{"s":"k","x":1675,"y":0.99},{"s":"k","x":1683,"y":1.0},{"s":"k","x":1690,"y":1.0},{"s":"k","x":1698,"y":0.99},{"s":"k","x":1705,"y":0.98},{"s":"k","x":1712,"y":0.97},{"s":"k","x":1720,"y":0.97},
{"s":"r","x":0,"y":0},{"s":"r","x":1070,"y":0},{"s":"r","x":1080,"y":0.05},{"s":"r","x":1090,"y":0.1},{"s":"r","x":1098,"y":0.06},{"s":"r","x":1105,"y":0.08},{"s":"r","x":1113,"y":0.03},{"s":"r","x":1125,"y":0.01},{"s":"r","x":1360,"y":0},{"s":"r","x":1375,"y":0.03},{"s":"r","x":1383,"y":0.06},{"s":"r","x":1390,"y":0.1},{"s":"r","x":1398,"y":0.08},{"s":"r","x":1405,"y":0.11},{"s":"r","x":1412,"y":0.12},{"s":"r","x":1420,"y":0.1},{"s":"r","x":1428,"y":0.12},{"s":"r","x":1435,"y":0.1},{"s":"r","x":1443,"y":0.12},{"s":"r","x":1450,"y":0.14},{"s":"r","x":1457,"y":0.15},{"s":"r","x":1465,"y":0.18},{"s":"r","x":1473,"y":0.22},{"s":"r","x":1480,"y":0.25},{"s":"r","x":1488,"y":0.23},{"s":"r","x":1495,"y":0.2},{"s":"r","x":1503,"y":0.18},{"s":"r","x":1510,"y":0.15},{"s":"r","x":1518,"y":0.12},{"s":"r","x":1525,"y":0.1},{"s":"r","x":1533,"y":0.12},{"s":"r","x":1540,"y":0.14},{"s":"r","x":1548,"y":0.15},{"s":"r","x":1555,"y":0.16},{"s":"r","x":1562,"y":0.18},{"s":"r","x":1570,"y":0.22},{"s":"r","x":1577,"y":0.28},{"s":"r","x":1585,"y":0.24},{"s":"r","x":1592,"y":0.2},{"s":"r","x":1600,"y":0.15},{"s":"r","x":1607,"y":0.1},{"s":"r","x":1615,"y":0.08},{"s":"r","x":1622,"y":0.05},{"s":"r","x":1630,"y":0.03},{"s":"r","x":1645,"y":0.01},{"s":"r","x":1720,"y":0.01}
]
},
"bounds": "flush",
"spacing": 55,
"resolve": {"scale": {"color": "independent"}},
"vconcat": [
 {
  "width": 801, "height": 115,
  "data": {"name": "bullets"},
  "resolve": {"scale": {"x": "independent"}},
  "layer": [
   {"mark": {"type": "text", "align": "left", "baseline": "alphabetic", "font": "Liberation Sans", "color": "#1a1a80"},
    "encoding": {
     "x": {"field": "level", "type": "quantitative", "scale": {"domain": [1, 2], "range": [-53, 8]}, "axis": null},
     "y": {"field": "line", "type": "ordinal", "scale": {"type": "point", "padding": 0}, "axis": null},
     "text": {"field": "marker"},
     "size": {"condition": {"test": "datum.level === 1", "value": 25.6}, "value": 20}
    }},
   {"mark": {"type": "text", "align": "left", "baseline": "alphabetic", "font": "Liberation Sans", "color": "#1a1a80"},
    "encoding": {
     "x": {"field": "level", "type": "quantitative", "scale": {"domain": [1, 2], "range": [-17, 25]}, "axis": null},
     "y": {"field": "line", "type": "ordinal", "scale": {"type": "point", "padding": 0}, "axis": null},
     "text": {"field": "text"},
     "size": {"condition": {"test": "datum.level === 1", "value": 25.6}, "value": 20}
    }},
   {"transform": [{"filter": "isValid(datum.extra)"}],
    "mark": {"type": "text", "align": "left", "baseline": "alphabetic", "font": "Liberation Sans", "fontStyle": "italic", "fontSize": 25.6, "color": "#2a8c2a", "dx": 343},
    "encoding": {
     "x": {"field": "level", "type": "quantitative", "scale": {"domain": [1, 2], "range": [-17, 25]}, "axis": null},
     "y": {"field": "line", "type": "ordinal", "scale": {"type": "point", "padding": 0}, "axis": null},
     "text": {"field": "extra"}
    }}
  ]
 },
 {
  "bounds": "flush",
  "spacing": 64,
  "resolve": {"scale": {"color": "independent"}},
  "hconcat": [
   {
    "width": 336, "height": 218,
    "layer": [
     {"data": {"name": "band"},
      "mark": {"type": "area", "color": "#0c0cf0", "opacity": 1},
      "encoding": {
       "x": {"field": "x", "type": "quantitative", "scale": {"domain": [0, 1655], "nice": false}, "axis": {"values": [0,200,400,600,800,1000,1200,1400,1600], "format": "d", "labelFontSize": 8, "labelPadding": 4, "labelOverlap": false}},
       "y": {"field": "lo", "type": "quantitative", "scale": {"domain": [0, 14], "range": [218, 10], "nice": false}, "axis": {"values": [0,2,4,6,8,10,12,14], "tickCount": 8, "labelFontSize": 8, "labelOverlap": false}},
       "y2": {"field": "hi"}
      }},
     {"data": {"name": "splines"},
      "mark": {"type": "line", "color": "#1f1fa6", "strokeWidth": 1.1, "clip": true},
      "encoding": {
       "x": {"field": "x", "type": "quantitative"},
       "y": {"field": "y", "type": "quantitative", "axis": {"values": [0,2,4,6,8,10,12,14], "tickCount": 8, "labelFontSize": 8, "labelOverlap": false}},
       "detail": {"field": "id"}
      }},
     {"data": {"name": "spew"},
      "mark": {"type": "line", "color": "#2cc4b4", "strokeWidth": 1},
      "encoding": {"x": {"field": "x", "type": "quantitative"}, "y": {"field": "y", "type": "quantitative", "axis": {"values": [0,2,4,6,8,10,12,14], "tickCount": 8, "labelFontSize": 8, "labelOverlap": false}}}},
     {"data": {"name": "spucrp"},
      "mark": {"type": "line", "color": "#e432d6", "strokeWidth": 1},
      "encoding": {"x": {"field": "x", "type": "quantitative"}, "y": {"field": "y", "type": "quantitative", "axis": {"values": [0,2,4,6,8,10,12,14], "tickCount": 8, "labelFontSize": 8, "labelOverlap": false}}}},
     {"data": {"values": [{"label": "S&P500, 2005-2011"}]},
      "mark": {"type": "text", "align": "left", "baseline": "alphabetic", "font": "Lato", "fontSize": 20, "color": "black"},
      "encoding": {"x": {"datum": 90}, "y": {"datum": 13.05, "axis": {"values": [0,2,4,6,8,10,12,14], "tickCount": 8, "labelFontSize": 8, "labelOverlap": false}}, "text": {"field": "label"}}}
    ]
   },
   {
    "bounds": "flush",
    "spacing": 19,
    "resolve": {"scale": {"color": "independent"}},
    "vconcat": [
     {
      "width": 401, "height": 223,
      "title": {"text": "red:Cover green:EW blue:anti-EW magenta:uniformCRP yellow:shortCRP", "fontSize": 7, "color": "#555", "offset": 2, "anchor": "middle"},
      "data": {"name": "perf"},
      "transform": [{"fold": ["g", "r", "b", "m"], "as": ["s", "v"]}],
      "mark": {"type": "line", "strokeWidth": 1},
      "encoding": {
       "x": {"field": "x", "type": "quantitative", "scale": {"domain": [0, 1800], "nice": false}, "axis": {"values": [0,200,400,600,800,1000,1200,1400,1600,1800], "format": "d", "labelFontSize": 6.5, "labelPadding": 3}},
       "y": {"field": "v", "type": "quantitative", "scale": {"domain": [0.4, 2.4], "nice": false, "zero": false}, "axis": {"values": [0.4,0.6,0.8,1,1.2,1.4,1.6,1.8,2,2.2,2.4], "format": "~g", "labelFontSize": 6.5}},
       "color": {"field": "s", "type": "nominal", "scale": {"domain": ["g", "r", "b", "m"], "range": ["#3fd23f", "#cc2b2b", "#1e1ea3", "#d038d0"]}, "legend": null}
      }
     },
     {
      "width": 401, "height": 72,
      "view": {"stroke": "#444", "strokeWidth": 0.8},
      "title": {"text": "EW long weights", "fontSize": 9.5, "color": "#333", "offset": -1, "anchor": "middle"},
      "data": {"name": "weights"},
      "mark": {"type": "line", "strokeWidth": 1},
      "encoding": {
       "x": {"field": "x", "type": "quantitative", "scale": {"domain": [0, 1800], "nice": false}, "axis": {"values": [0,200,400,600,800,1000,1200,1400,1600,1800], "format": "d", "labelFontSize": 8.5, "labelPadding": 4}},
       "y": {"field": "y", "type": "quantitative", "scale": {"domain": [0, 1], "nice": false}, "axis": {"values": [0,0.2,0.4,0.6,0.8,1], "format": "~g", "labelFontSize": 8.5}},
       "color": {"field": "s", "type": "nominal", "scale": {"domain": ["c", "b", "m", "k", "r"], "range": ["#33b8c0", "#1a1aa8", "#a822b2", "#333333", "#dd2222"]}, "legend": null}
      }
     }
    ]
   }
  ]
 }
]
}
